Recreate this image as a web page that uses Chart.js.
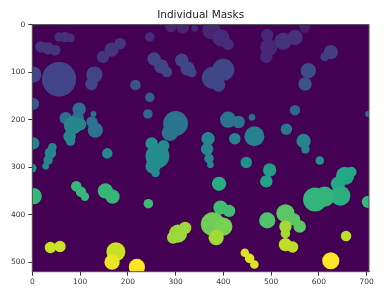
<!DOCTYPE html>
<html><head><meta charset="utf-8">
<script src="https://cdn.jsdelivr.net/npm/chart.js@4"></script>
<style>html,body{margin:0;padding:0;background:#fff}</style>
</head><body>
<canvas id="c" width="387" height="300"></canvas>
<script>
// Mask blobs: centre x, centre y (image pixels), radius (image pixels), label value (0..1 of colormap)
const blobX = [
  290,315,340, 375,395,410, 492,495,490, 525,550,570, 246,56,68,80, 18,33,48, 148,166,184, 625,612,
  56,2,130,124, 255,270,282, 313,325,334, 378,400,390, 578,571,216,246, 1,550,242,703,
  98,70,95, 128,125,132, 85,100,78,80, 410,432,460, 465,424,532, 300,288, 568,572,2,
  368,366,370,373, 250,275,262,253,258, 42,38,33,28, 157,0,448,602, 497,490,391,
  655,640,668, 645,592,612, 703,92,102,110, 153,168,3,243, 394,412,
  492,530,548,560, 530,530, 378,400,385, 305,320,295, 657,530,545,
  38,58,175,167, 445,455,465, 625,219
];
const blobY = [
  4,6,8, 12,28,42, 22,48,68, 35,27,6, 26,26,26,28, 47,50,54, 68,53,40, 58,68,
  115,105,105,125, 72,88,100, 75,92,101, 112,95,127, 97,125,127,153, 167,180,188,188,
  178,197,197, 188,205,222, 212,210,235,245, 200,205,195, 235,240,220, 208,228, 245,262,250,
  240,262,282,295, 250,255,277,298,312, 258,270,285,298, 271,302,290,286, 306,330,335,
  318,335,310, 360,368,362, 373,340,352,362, 350,362,361,377, 385,392,
  412,397,410,425, 425,440, 420,425,448, 440,428,448, 445,463,468,
  469,467,478,500, 480,492,505, 497,510
];
const blobR = [
  12,13,7, 19,18,12, 13,18,13, 18,16,11, 10,10,11,9, 12,13,11, 13,15,12, 15,9,
  36,17,17,13, 14,15,11, 14,15,10, 23,23,14, 16,14,11,10, 13,11,10,6,
  14,13,13, 6,12,16, 19,13,13,10, 17,13,7, 21,12,12, 26,17, 15,9,13,
  14,13,10,7, 13,12,25,16,9, 9,12,10,7, 11,9,12,9, 14,13,15,
  19,15,11, 21,25,21, 13,11,11,9, 16,15,17,10, 15,13,
  17,19,13,13, 13,10, 25,19,16, 19,13,13, 11,14,12,
  12,12,20,16, 9,10,9, 18,17
];
const blobV = [
  .1,.1,.1, .1,.12,.12, .11,.11,.11, .14,.14,.08, .12,.13,.13,.13, .15,.15,.15, .15,.15,.15, .18,.18,
  .2,.2,.2,.2, .2,.2,.2, .2,.2,.2, .21,.21,.21, .23,.26,.25,.3, .28,.33,.32,.35,
  .36,.36,.36, .38,.38,.38, .45,.45,.45,.45, .38,.38,.38, .43,.46,.4, .38,.38, .44,.44,.43,
  .45,.45,.45,.45, .5,.48,.48,.48,.48, .46,.46,.46,.46, .47,.5,.5,.5, .55,.57,.62,
  .6,.6,.6, .63,.65,.65, .66,.66,.66,.66, .66,.66,.66,.68, .69,.69,
  .72,.74,.74,.74, .86,.86, .78,.8,.86, .85,.85,.85, .9,.9,.9,
  .92,.92,.92,.97, .95,.95,.95, 1,1
];
const xTicks = [0,100,200,300,400,500,600,700];
const yTicks = [0,100,200,300,400,500];
const imgW = 705, imgH = 520;

const viridis = ['#440154','#482475','#414487','#355f8d','#2a788e','#21918c','#22a884','#44bf70','#7ad151','#bddf26','#fde725'];
function hex(h){return [1,3,5].map(i=>parseInt(h.substr(i,2),16));}
function cmap(v){
  const t = Math.max(0,Math.min(1,v))*10, i = Math.min(9,Math.floor(t)), f = t-i;
  const a = hex(viridis[i]), b = hex(viridis[i+1]);
  return 'rgb('+a.map((c,k)=>Math.round(c+(b[k]-c)*f)).join(',')+')';
}
const points = blobX.map((x,i)=>({x:x, y:blobY[i]}));
const colors = blobV.map(cmap);
function rad(ctx){
  const s = ctx.chart.scales.x;
  if(!s) return 0;
  return Math.abs(s.getPixelForValue(blobR[ctx.dataIndex]) - s.getPixelForValue(0));
}
const bgPlugin = {
  id:'bg',
  beforeDatasetsDraw(chart){
    const a = chart.chartArea, c = chart.ctx;
    c.save(); c.fillStyle = viridis[0]; c.fillRect(a.left,a.top,a.right-a.left,a.bottom-a.top); c.restore();
  },
  afterDraw(chart){
    const a = chart.chartArea, c = chart.ctx;
    c.save(); c.strokeStyle = '#555'; c.lineWidth = 1;
    c.strokeRect(a.left,a.top,a.right-a.left,a.bottom-a.top); c.restore();
  }
};
const tickFont = {family:'DejaVu Sans', size:7.5};
new Chart(document.getElementById('c'), {
  type:'scatter',
  data:{datasets:[{data:points, pointStyle:'circle', pointRadius:rad, pointHoverRadius:rad,
    pointBackgroundColor:colors, pointBorderColor:colors, pointHoverBackgroundColor:colors,
    pointBorderWidth:0, pointHoverBorderWidth:0, borderWidth:0, backgroundColor:colors, borderColor:colors, clip:0}]},
  options:{
    responsive:false, animation:false, events:[],
    elements:{point:{borderWidth:0, hoverBorderWidth:0}},
    layout:{padding:{left:0,right:18,top:0,bottom:0}},
    plugins:{legend:{display:false}, tooltip:{enabled:false},
      title:{display:true, text:'Individual Masks', fullSize:false, color:'#222',
        font:{family:'DejaVu Sans', size:10.5, weight:'normal'}, padding:{top:9,bottom:3}}},
    scales:{
      x:{type:'linear', min:0, max:imgW,
        afterBuildTicks:s=>{s.ticks = xTicks.map(v=>({value:v}));},
        afterFit:s=>{s.height = 28.3;},
        grid:{drawOnChartArea:false, drawTicks:true, tickLength:4, tickColor:'#333'},
        border:{display:true, color:'#555'},
        ticks:{font:tickFont, color:'#333', padding:2, maxRotation:0, autoSkip:false}},
      y:{type:'linear', reverse:true, min:0, max:imgH,
        afterBuildTicks:s=>{s.ticks = yTicks.map(v=>({value:v}));},
        afterFit:s=>{s.width = 32.3;},
        grid:{drawOnChartArea:false, drawTicks:true, tickLength:4, tickColor:'#333'},
        border:{display:true, color:'#555'},
        ticks:{font:tickFont, color:'#333', padding:3, autoSkip:false}}
    }
  },
  plugins:[bgPlugin]
});
</script>
</body></html>
